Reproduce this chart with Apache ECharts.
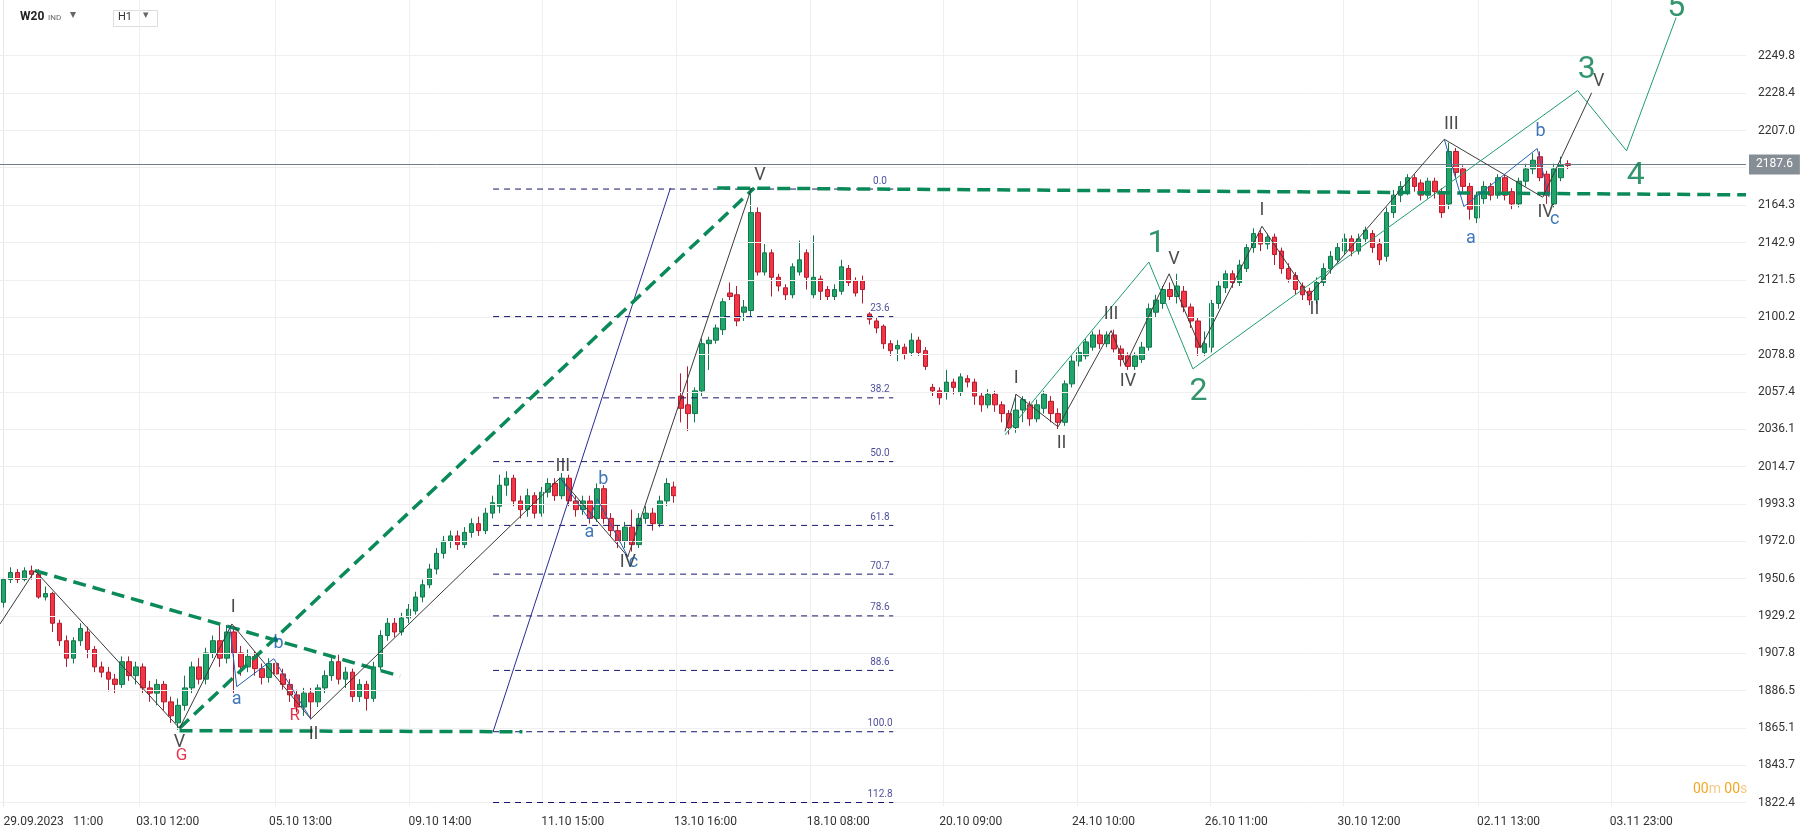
<!DOCTYPE html>
<html><head><meta charset="utf-8">
<script src="https://cdn.jsdelivr.net/npm/echarts@6/dist/echarts.min.js"></script>
<style>html,body{margin:0;padding:0;background:#fff}#c{width:1818px;height:834px}</style>
</head><body><div id="c"></div>
<script>
// [open, close, low, high]
const candles = [
[1937,1950,1934,1951],[1950,1954,1948,1957],[1954,1950,1948,1956],[1950,1955,1949,1957],[1955,1953,1950,1958],
[1953,1940,1939,1956],[1940,1942,1938,1946],[1942,1925,1920,1943],[1925,1915,1912,1927],[1915,1905,1900,1918],
[1905,1915,1902,1917],[1915,1922,1912,1925],[1920,1910,1905,1923],[1910,1900,1897,1912],[1900,1897,1894,1903],
[1897,1893,1886,1900],[1893,1890,1885,1896],[1890,1903,1888,1906],[1903,1895,1892,1906],[1895,1900,1890,1903],
[1900,1888,1885,1902],[1888,1885,1880,1892],[1885,1890,1878,1893],[1890,1880,1875,1892],[1880,1872,1868,1883],
[1868,1878,1864,1882],[1878,1888,1875,1895],[1888,1900,1885,1903],[1900,1893,1890,1905],[1893,1908,1890,1911],
[1908,1915,1905,1918],[1915,1905,1900,1925],[1905,1920,1902,1924],[1920,1908,1885,1922],[1908,1900,1895,1912],
[1900,1906,1897,1910],[1906,1899,1895,1909],[1899,1894,1890,1902],[1894,1902,1891,1905],[1902,1896,1893,1905],
[1896,1890,1887,1899],[1890,1884,1880,1893],[1884,1877,1874,1887],[1877,1885,1872,1888],[1885,1880,1870,1888],
[1880,1888,1877,1890],[1888,1895,1885,1898],[1895,1903,1892,1906],[1903,1893,1890,1907],[1893,1897,1888,1900],
[1897,1883,1880,1899],[1883,1890,1880,1893],[1890,1882,1875,1892],[1882,1900,1880,1903],[1900,1918,1898,1921],
[1918,1925,1915,1928],[1925,1920,1917,1928],[1920,1928,1918,1931],[1928,1933,1925,1936],[1932,1940,1930,1943],
[1940,1947,1937,1950],[1947,1956,1945,1959],[1956,1965,1953,1968],[1965,1972,1962,1975],[1972,1975,1968,1978],
[1975,1970,1967,1978],[1970,1977,1968,1980],[1977,1982,1974,1985],[1982,1978,1975,1986],[1978,1988,1976,1991],
[1988,1994,1985,1998],[1992,2004,1988,2010],[2004,2008,1998,2012],[2008,1995,1992,2010],[1995,1990,1985,1998],
[1990,1998,1986,2002],[1998,1988,1985,2000],[1988,2000,1986,2003],[2000,2005,1997,2008],[2005,1998,1995,2008],
[1998,2008,1996,2011],[2008,1995,1992,2010],[1995,1990,1986,1998],[1990,1995,1987,1998],[1995,1985,1982,1998],
[1985,2002,1983,2005],[2002,1985,1982,2004],[1985,1978,1975,1988],[1978,1972,1968,1981],[1972,1980,1968,1983],
[1980,1970,1966,1990],[1970,1985,1968,1988],[1985,1988,1982,1992],[1988,1982,1978,1991],[1982,1995,1980,1998],
[1995,2005,1992,2008],[2003,1998,1994,2006],[2055,2048,2040,2068],[2050,2045,2035,2072],[2045,2058,2040,2060],
[2058,2085,2055,2088],[2085,2087,2070,2089],[2087,2094,2085,2096],[2093,2109,2090,2111],[2114,2112,2110,2120],
[2113,2098,2095,2118],[2103,2106,2098,2110],[2104,2160,2100,2171],[2160,2126,2124,2163],[2126,2137,2124,2142],
[2137,2123,2112,2139],[2123,2118,2115,2125],[2117,2113,2110,2119],[2113,2129,2111,2131],[2126,2133,2124,2144],
[2137,2123,2116,2139],[2113,2123,2111,2147],[2122,2115,2110,2124],[2116,2112,2110,2118],[2112,2116,2110,2119],
[2115,2129,2113,2133],[2128,2120,2118,2130],[2121,2114,2112,2123],[2121,2116,2108,2124],[2102,2099,2096,2103],
[2098,2094,2091,2100],[2095,2085,2082,2096],[2085,2081,2078,2087],[2082,2084,2075,2087],[2083,2079,2076,2085],
[2080,2087,2078,2091],[2087,2080,2078,2089],[2081,2072,2070,2083],[2060,2058,2055,2062],[2058,2054,2050,2060],
[2057,2063,2053,2070],[2063,2060,2056,2065],[2057,2066,2055,2068],[2065,2063,2060,2067],[2063,2055,2050,2065],
[2055,2050,2046,2057],[2050,2056,2048,2059],[2056,2050,2046,2058],[2050,2045,2040,2052],[2045,2037,2033,2047],
[2037,2047,2034,2056],[2047,2053,2040,2055],[2050,2042,2038,2052],[2042,2050,2040,2053],[2048,2056,2045,2058],
[2052,2045,2040,2055],[2045,2040,2036,2048],[2040,2062,2038,2064],[2062,2075,2060,2078],[2075,2080,2072,2083],
[2078,2086,2076,2088],[2083,2090,2081,2092],[2090,2085,2082,2093],[2085,2090,2083,2092],[2090,2082,2080,2093],
[2082,2076,2072,2084],[2078,2072,2070,2080],[2072,2078,2070,2080],[2076,2083,2074,2086],[2083,2105,2081,2108],
[2103,2110,2100,2113],[2108,2116,2105,2118],[2116,2112,2110,2120],[2112,2118,2108,2125],[2115,2106,2103,2118],
[2106,2098,2094,2108],[2098,2083,2078,2100],[2080,2085,2078,2092],[2083,2108,2080,2110],[2108,2118,2105,2121],
[2117,2125,2114,2127],[2125,2120,2117,2127],[2120,2130,2118,2133],[2128,2140,2126,2142],[2140,2148,2137,2151],
[2148,2142,2138,2150],[2142,2146,2139,2148],[2146,2136,2130,2148],[2138,2128,2125,2140],[2128,2122,2120,2131],
[2124,2116,2113,2126],[2118,2113,2110,2120],[2115,2110,2107,2117],[2110,2120,2108,2123],[2120,2128,2118,2131],
[2128,2135,2125,2138],[2133,2140,2131,2143],[2138,2145,2136,2148],[2145,2138,2135,2147],[2138,2145,2136,2148],
[2145,2150,2142,2152],[2148,2140,2137,2150],[2142,2133,2130,2145],[2135,2160,2132,2163],[2160,2170,2157,2173],
[2170,2175,2166,2178],[2172,2180,2170,2182],[2180,2175,2172,2182],[2177,2170,2167,2179],[2170,2178,2168,2180],
[2178,2172,2168,2180],[2172,2160,2157,2174],[2165,2195,2162,2200],[2195,2183,2180,2197],[2185,2175,2172,2187],
[2175,2162,2156,2177],[2157,2170,2154,2172],[2168,2175,2165,2178],[2175,2170,2167,2177],[2170,2180,2168,2182],
[2180,2170,2167,2182],[2172,2165,2162,2174],[2165,2178,2163,2180],[2178,2185,2175,2188],[2185,2190,2182,2194],
[2192,2180,2178,2195],[2182,2170,2165,2184],[2165,2185,2163,2188],[2180,2187,2178,2192],[2188,2187,2185,2190]
];
const slotCount = 250;
const xTickSlots = [0,10,19,38,58,77,96,115,134,153,172,191,211,230];
const xTickTexts = ['29.09.2023','11:00','03.10 12:00','05.10 13:00','09.10 14:00','11.10 15:00','13.10 16:00','18.10 08:00','20.10 09:00','24.10 10:00','26.10 11:00','30.10 12:00','02.11 13:00','03.11 23:00'];
const vGridSlots = [19.4,38.9,58.1,77.2,96.3,115.5,134.6,153.7,172.8,191.9,211.1,230.2];
const yTicks = [1822.4,1843.7,1865.1,1886.5,1907.8,1929.2,1950.6,1972.0,1993.3,2014.7,2036.1,2057.4,2078.8,2100.2,2121.5,2142.9,2164.3,2207.0,2228.4,2249.8];
const yGrid = yTicks.concat([2185.7]);
const lastPrice = 2187.6;
// wave annotation polylines [slot, price]
const blackA = [[-0.5,1924.6],[4.5,1955.1],[25.2,1864.9],[32.7,1924.6],[44,1870.2],[79.7,2008.2],[89.4,1963.1],[107.1,2174.1]];
const blackB = [[143.4,2034.8],[145,2056.0],[151,2037.4],[158.6,2092.5],[160.6,2072.6],[166.9,2125.0],[171.4,2082.5]];
const blackC = [[171.4,2082.5],[180.2,2152.2],[186.9,2112.4],[206.3,2202.0],[220.4,2168.8],[227.4,2228.6]];
const blueD = [[32.4,1923.3],[33.4,1888.7],[38.7,1904.7],[44,1870.2]];
const blueE = [[79.7,2008.2],[83.9,1984.3],[85.0,1996.3],[89.4,1963.1]];
const blueF = [[206.3,2202],[209.1,2163.5],[219.6,2196.7],[221.3,2168.8]];
const greenThin = [[143.4,2032.8],[164,2131.7],[170.3,2070.6],[225.4,2229.9],[232.4,2195.4],[239.5,2271.7]];
const navyLine = [[70.1,1862.9],[95.5,2174.1]];
const dashLines = [
  [[4.5,1955.1],[56.8,1894.7]],
  [[25.2,1864.9],[107.5,2174.1]],
  [[25.2,1863.5],[74.3,1862.9]],
  [[102.2,2174.1],[249.5,2170.2]]
];
const fibNames = ['0.0','23.6','38.2','50.0','61.8','70.7','78.6','88.6','100.0','112.8'];
const fibPrices = [2173.5,2100.5,2054.0,2017.5,1981.0,1953.1,1929.2,1898.0,1862.9,1822.4];
const fibRange = [70.1,127.4];
// text labels [slot, price, text, kind]
const waveLabels = [
 [25.2,1857,'V','k'],[25.5,1849,'G','r'],[32.9,1934,'I','k'],[33.4,1881.5,'a','b'],[39.4,1913.3,'b','b'],
 [41.7,1872.2,'R','r'],[44.4,1861.5,'II','k'],[80.1,2014.8,'III','k'],[85.9,2007.5,'b','b'],[83.9,1977,'a','b'],
 [89.4,1960,'IV','k'],[90.2,1960,'c','b'],[108.3,2181.4,'V','k'],[145,2065.3,'I','k'],[151.5,2028.1,'II','k'],
 [158.6,2101.8,'III','k'],[161,2063.3,'IV','k'],[165.1,2142.3,'1','g'],[167.6,2133,'V','k'],[171.1,2057.3,'2','g'],
 [180.2,2161.5,'I','k'],[187.7,2104.5,'II','k'],[207.3,2210.6,'III','k'],[210.1,2145,'a','b'],[220.1,2206.7,'b','b'],
 [220.8,2160.2,'IV','k'],[222.1,2156.2,'c','b'],[226.7,2241.8,'3','g'],[228.4,2235.2,'V','k'],[233.7,2180.8,'4','g'],
 [239.5,2277,'5','g']
];

const labelStyle = {k:{color:'#1e1e1e',fontSize:18},b:{color:'#0f55a8',fontSize:18},r:{color:'#e0001e',fontSize:17},g:{color:'#007a4a',fontSize:32}};
const cats = Array.from({length:slotCount},(_,i)=>String(i));
const tickMap = {}; xTickSlots.forEach((s,k)=>tickMap[s]=xTickTexts[k]);

function poly(data,color,width,type){
  return {type:'line',xAxisIndex:1,yAxisIndex:0,data:data,symbol:'none',silent:true,z:5,
    lineStyle:{color:color,width:width,type:type||'solid'},animation:false};
}
const series = [];
series.push({type:'line',xAxisIndex:1,data:[],silent:true,z:0,
  markLine:{silent:true,symbol:'none',animation:false,label:{show:false},
    lineStyle:{color:'#efefef',width:1,type:'solid'},
    data: yGrid.map(v=>({yAxis:v})).concat(vGridSlots.map(v=>({xAxis:v})))}});
series.push({type:'candlestick',xAxisIndex:0,data:candles,barWidth:5,z:3,
  itemStyle:{color:'#22a56b',color0:'#f23645',borderColor:'#10784c',borderColor0:'#b31b2e',borderWidth:1},
  markLine:{silent:true,symbol:'none',animation:false,
    lineStyle:{color:'#6e7f8c',width:1,type:'solid'},
    label:{show:true,position:'end',formatter:String(lastPrice),color:'#fff',backgroundColor:'#858d95',padding:[4,7],fontSize:12,distance:3},
    data:[{yAxis:lastPrice}]}});
fibNames.forEach((n,k)=>{
  series.push(poly([[fibRange[0],fibPrices[k]],[fibRange[1],fibPrices[k]]],'#16166a',1,[6,5]));
});
series.push({type:'scatter',xAxisIndex:1,symbol:'circle',symbolSize:0,silent:true,z:6,
  itemStyle:{color:'transparent'},
  data:fibNames.map((n,k)=>({value:[125.5,fibPrices[k]],name:n})),
  label:{show:true,position:'top',distance:3,formatter:p=>p.name,color:'#1c1c80',fontSize:10}});
series.push(poly(navyLine,'#2a2a90',1));
dashLines.forEach(d=>series.push(poly(d,'#0a8a58',3.5,[13,7])));
series.push(poly(blackA,'#3a3a3a',1));
series.push(poly(blackB,'#3a3a3a',1));
series.push(poly(blackC,'#3a3a3a',1));
series.push(poly(blueD,'#2460b0',1));
series.push(poly(blueE,'#2460b0',1));
series.push(poly(blueF,'#2460b0',1));
series.push(poly(greenThin,'#1e9d6c',1));
series.push({type:'scatter',xAxisIndex:1,symbol:'circle',symbolSize:0,silent:true,z:8,
  itemStyle:{color:'transparent'},
  data:waveLabels.map(w=>({value:[w[0],w[1]],name:w[2],label:Object.assign({show:true,position:'inside',formatter:w[2],fontFamily:'Roboto'},labelStyle[w[3]])}))});

const chart = echarts.init(document.getElementById('c'),null,{renderer:'canvas'});
chart.setOption({
  animation:false,
  textStyle:{fontFamily:'Roboto, "Noto Sans", sans-serif'},
  grid:{left:0,right:72,top:0,bottom:28,containLabel:false},
  xAxis:[
    {type:'category',data:cats,boundaryGap:true,axisLine:{show:false},axisTick:{show:false},splitLine:{show:false},
     axisLabel:{interval:0,align:'left',color:'#333',fontSize:12,margin:10,formatter:(v,i)=>tickMap[i]||''}},
    {type:'value',min:-0.5,max:slotCount-0.5,show:false}
  ],
  yAxis:[{type:'value',position:'right',min:1820.4,max:2281.7,scale:true,
    axisLine:{show:true,lineStyle:{color:'#e6e6e6'}},axisTick:{show:false},splitLine:{show:false},
    axisLabel:{customValues:yTicks,color:'#333',fontSize:12,margin:12,formatter:v=>v.toFixed(1)}}],
  graphic:[
    {type:'text',left:20,top:11,style:{text:'W20',font:'bold 12px Roboto',fill:'#222'}},
    {type:'text',left:48,top:14,style:{text:'IND',font:'8px Roboto',fill:'#666'}},
    {type:'text',left:70,top:9,style:{text:'▾',font:'12px "DejaVu Sans"',fill:'#666'}},
    {type:'rect',left:113,top:10,shape:{width:44,height:16},style:{fill:'#fff',stroke:'#ddd'}},
    {type:'text',left:118,top:12,style:{text:'H1',font:'11px Roboto',fill:'#333'}},
    {type:'text',left:143,top:10,style:{text:'▾',font:'11px "DejaVu Sans"',fill:'#666'}},
    {type:'text',left:1693,top:782,style:{text:'{o|00}{g|m} {o|00}{g|s}',rich:{o:{fill:'#f5a623',fontSize:14,fontFamily:'Roboto'},g:{fill:'#f5c98a',fontSize:14,fontFamily:'Roboto'}}}}
  ],
  series:series
});
</script></body></html>
